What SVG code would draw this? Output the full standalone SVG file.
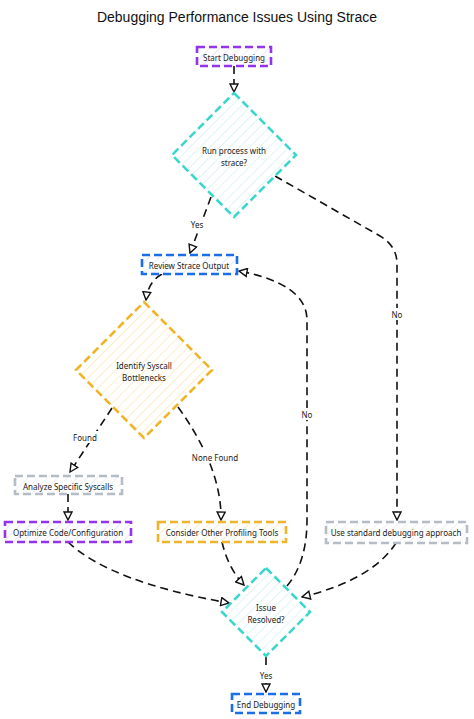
<svg xmlns="http://www.w3.org/2000/svg" width="474" height="719" viewBox="0 0 474 719">
<style>
.t{font-family:"Noto Sans","Liberation Sans",sans-serif;font-size:8px;fill:#222;text-anchor:middle;dominant-baseline:central}
.title{font-family:"Liberation Sans",sans-serif;font-size:14px;fill:#111;text-anchor:middle}
.e{fill:none;stroke:#111;stroke-width:1.6;stroke-dasharray:8 5}
.lbl{fill:#fff}
.n{stroke-width:2.6;stroke-dasharray:8 4}
</style>
<defs>
<marker id="ah" viewBox="0 0 10 10" refX="9" refY="5" markerWidth="10" markerHeight="10" markerUnits="userSpaceOnUse" orient="auto">
<path d="M1,1 L9,5 L1,9 Z" fill="#fff" stroke="#111" stroke-width="1.4"/>
</marker>
<pattern id="hTeal" width="7" height="7" patternUnits="userSpaceOnUse" patternTransform="rotate(45)"><rect width="7" height="7" fill="#fff"/><line x1="0" y1="0" x2="0" y2="7" stroke="#bfe9ec" stroke-width="1"/></pattern>
<pattern id="hAmber" width="7" height="7" patternUnits="userSpaceOnUse" patternTransform="rotate(45)"><rect width="7" height="7" fill="#fff"/><line x1="0" y1="0" x2="0" y2="7" stroke="#f8dd8f" stroke-width="1"/></pattern>
<pattern id="hBlue" width="7" height="7" patternUnits="userSpaceOnUse" patternTransform="rotate(45)"><rect width="7" height="7" fill="#fff"/><line x1="0" y1="0" x2="0" y2="7" stroke="#c6daf5" stroke-width="1"/></pattern>
<pattern id="hPurple" width="7" height="7" patternUnits="userSpaceOnUse" patternTransform="rotate(45)"><rect width="7" height="7" fill="#fff"/><line x1="0" y1="0" x2="0" y2="7" stroke="#e0ccf5" stroke-width="1"/></pattern>
<pattern id="hGray" width="7" height="7" patternUnits="userSpaceOnUse" patternTransform="rotate(45)"><rect width="7" height="7" fill="#fff"/><line x1="0" y1="0" x2="0" y2="7" stroke="#dde1e6" stroke-width="1"/></pattern>
</defs>
<rect width="474" height="719" fill="#fff"/>
<text class="title" x="237" y="22">Debugging Performance Issues Using Strace</text>

<g id="connectors">
<path class="e" d="M234,66 L234,92" marker-end="url(#ah)"/>
<path class="e" d="M211,197 L190,253" marker-end="url(#ah)"/>
<path class="e" d="M275,176 L380,236 Q397,246 397,264 L397,520" marker-end="url(#ah)"/>
<path class="e" d="M162,274 Q148,282 146,300" marker-end="url(#ah)"/>
<path class="e" d="M112,408 L70,472" marker-end="url(#ah)"/>
<path class="e" d="M178,407 Q222,468 221,520" marker-end="url(#ah)"/>
<path class="e" d="M68,494 L68,520" marker-end="url(#ah)"/>
<path class="e" d="M68,542 Q110,582 229,603" marker-end="url(#ah)"/>
<path class="e" d="M222,542 Q228,568 244,585" marker-end="url(#ah)"/>
<path class="e" d="M396,543 Q372,580 302,597" marker-end="url(#ah)"/>
<path class="e" d="M287,586 Q307,562 307,520 L307,320 Q307,284 239,271" marker-end="url(#ah)"/>
<path class="e" d="M266,657 L266,692" marker-end="url(#ah)"/>
<rect class="lbl" x="187" y="218" width="20" height="12"/><text class="t" x="197" y="224">Yes</text>
<rect class="lbl" x="389" y="308" width="16" height="12"/><text class="t" x="397" y="314">No</text>
<rect class="lbl" x="72" y="431" width="27" height="12"/><text class="t" x="85" y="437">Found</text>
<rect class="lbl" x="192" y="451" width="46" height="12"/><text class="t" x="215" y="457">None Found</text>
<rect class="lbl" x="299" y="408" width="16" height="12"/><text class="t" x="307" y="414">No</text>
<rect class="lbl" x="256" y="669" width="20" height="12"/><text class="t" x="266" y="675">Yes</text>
</g>

<g id="start"><rect class="n" x="197" y="47" width="74" height="19" fill="url(#hPurple)" stroke="#9333ea"/><text class="t" x="234" y="57">Start Debugging</text></g>
<g id="runStrace"><polygon class="n" points="234,93 296,155 234,217 172,155" fill="url(#hTeal)" stroke="#3dd6cc"/><text class="t" x="234" y="150">Run process with</text><text class="t" x="234" y="162">strace?</text></g>
<g id="review"><rect class="n" x="142" y="255" width="95" height="19" fill="url(#hBlue)" stroke="#1a6fe8"/><text class="t" x="189" y="265">Review Strace Output</text></g>
<g id="identify"><polygon class="n" points="144,302 212,370 144,438 76,370" fill="url(#hAmber)" stroke="#f0b429"/><text class="t" x="144" y="365">Identify Syscall</text><text class="t" x="144" y="377">Bottlenecks</text></g>
<g id="analyze"><rect class="n" x="15" y="476" width="107" height="18" fill="url(#hGray)" stroke="#b4bcc6"/><text class="t" x="68" y="486">Analyze Specific Syscalls</text></g>
<g id="optimize"><rect class="n" x="5" y="522" width="126" height="20" fill="url(#hPurple)" stroke="#9333ea"/><text class="t" x="68" y="532">Optimize Code/Configuration</text></g>
<g id="consider"><rect class="n" x="158" y="522" width="128" height="20" fill="url(#hAmber)" stroke="#f0b429"/><text class="t" x="222" y="532">Consider Other Profiling Tools</text></g>
<g id="standard"><rect class="n" x="326" y="522" width="141" height="21" fill="url(#hGray)" stroke="#b4bcc6"/><text class="t" x="396" y="532">Use standard debugging approach</text></g>
<g id="resolved"><polygon class="n" points="266,568 310,612 266,656 222,612" fill="url(#hTeal)" stroke="#3dd6cc"/><text class="t" x="266" y="607">Issue</text><text class="t" x="266" y="619">Resolved?</text></g>
<g id="end"><rect class="n" x="232" y="694" width="68" height="19" fill="url(#hBlue)" stroke="#1a6fe8"/><text class="t" x="266" y="704">End Debugging</text></g>
</svg>
